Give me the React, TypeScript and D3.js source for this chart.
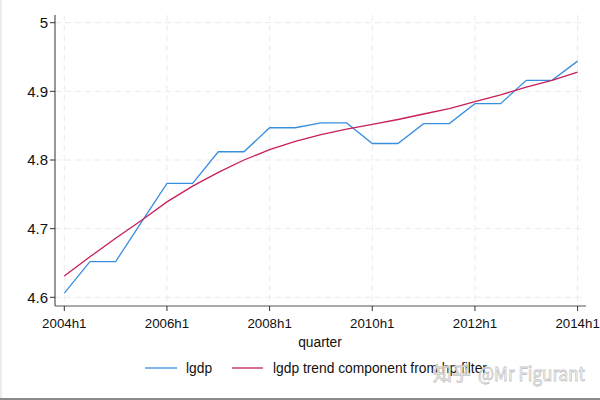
import React from "react";
import * as d3 from "d3";

const periods = [
  "2004h1","2004h2","2005h1","2005h2","2006h1","2006h2","2007h1","2007h2",
  "2008h1","2008h2","2009h1","2009h2","2010h1","2010h2","2011h1","2011h2",
  "2012h1","2012h2","2013h1","2013h2","2014h1",
];
const lgdp = [
  4.606, 4.652, 4.652, 4.709, 4.766, 4.766, 4.812, 4.812,
  4.847, 4.847, 4.854, 4.854, 4.824, 4.824, 4.853, 4.853,
  4.882, 4.882, 4.916, 4.916, 4.944,
];
const trend = [
  4.631, 4.659, 4.686, 4.712, 4.739, 4.762, 4.782, 4.800,
  4.815, 4.827, 4.837, 4.845, 4.852, 4.859, 4.867, 4.875,
  4.885, 4.895, 4.906, 4.916, 4.928,
];
const xTickLabels = ["2004h1", "2006h1", "2008h1", "2010h1", "2012h1", "2014h1"];
const yTicks = [4.6, 4.7, 4.8, 4.9, 5];
const seriesNames = ["lgdp", "lgdp trend component from hp filter"];
const xTitle = "quarter";

const W = 600;
const H = 400;
const FONT = "'Liberation Sans', Arial, Helvetica, sans-serif";
const BLUE = "#3a8ee0";
const RED = "#c81f5a";

export default function App() {
  const x = d3.scaleLinear().domain([0, periods.length - 1]).range([64.3, 577.6]);
  const y = d3.scaleLinear().domain([4.6, 5]).range([297.3, 22.7]);
  const axisLeft = 55;
  const axisBottom = 306;
  const plotTop = 15;
  const plotRight = 586;

  const line = d3
    .line<number>()
    .x((_, i) => x(i))
    .y((d) => y(d));

  const xTicks = xTickLabels.map((lab) => ({ lab, i: periods.indexOf(lab) }));

  return (
    <svg
      width={W}
      height={H}
      style={{ position: "absolute", left: 0, top: 0, background: "#fff" }}
      fontFamily={FONT}
    >
      <rect x={0} y={0} width={W} height={H} fill="#fff" />
      <line x1={1} y1={0} x2={1} y2={H} stroke="#e6e6e6" strokeWidth={1.5} />
      <line x1={0} y1={399} x2={W} y2={399} stroke="#8a8a8a" strokeWidth={2} />

      {/* grid */}
      {yTicks.map((t) => (
        <line
          key={"gy" + t}
          x1={axisLeft}
          x2={plotRight}
          y1={y(t)}
          y2={y(t)}
          stroke="#ebebeb"
          strokeWidth={1}
          strokeDasharray="6,4"
        />
      ))}
      {xTicks.map((t) => (
        <line
          key={"gx" + t.lab}
          x1={x(t.i)}
          x2={x(t.i)}
          y1={plotTop}
          y2={axisBottom}
          stroke="#ebebeb"
          strokeWidth={1}
          strokeDasharray="6,4"
        />
      ))}

      {/* series */}
      <path d={line(lgdp) || ""} fill="none" stroke={BLUE} strokeWidth={1.3} />
      <path d={line(trend) || ""} fill="none" stroke={RED} strokeWidth={1.3} />

      {/* axes */}
      <line x1={axisLeft} x2={axisLeft} y1={plotTop} y2={axisBottom} stroke="#333" strokeWidth={1} />
      <line x1={axisLeft} x2={plotRight} y1={axisBottom} y2={axisBottom} stroke="#555" strokeWidth={1} />
      {yTicks.map((t) => (
        <g key={"ty" + t}>
          <line x1={axisLeft - 5} x2={axisLeft} y1={y(t)} y2={y(t)} stroke="#333" />
          <text
            x={axisLeft - 7}
            y={y(t)}
            dy="0.36em"
            textAnchor="end"
            fontSize={15}
            fill="#111"
          >
            {d3.format("")(t)}
          </text>
        </g>
      ))}
      {xTicks.map((t) => (
        <g key={"tx" + t.lab}>
          <line x1={x(t.i)} x2={x(t.i)} y1={axisBottom} y2={axisBottom + 5} stroke="#333" />
          <text x={x(t.i)} y={327.5} textAnchor="middle" fontSize={13.3} fill="#111">
            {t.lab}
          </text>
        </g>
      ))}
      <text x={320} y={346.5} textAnchor="middle" fontSize={13.8} fill="#111">
        {xTitle}
      </text>

      {/* legend */}
      <line x1={145} x2={177} y1={368} y2={368} stroke={BLUE} strokeWidth={1.3} />
      <text x={186} y={373} fontSize={13.8} fill="#111">
        {seriesNames[0]}
      </text>
      <line x1={232} x2={263} y1={368} y2={368} stroke={RED} strokeWidth={1.3} />
      <text x={273} y={373} fontSize={13.8} fill="#111">
        {seriesNames[1]}
      </text>

      {/* watermark */}
      <g
        fontFamily="'Noto Sans CJK SC', 'Noto Sans', sans-serif"
        fill="#ffffff"
        fillOpacity={0.85}
        stroke="#c4c4c4"
        strokeWidth={0.8}
      >
        <text x={433} y={381} fontSize={19} textLength={38} lengthAdjust="spacingAndGlyphs">
          知乎
        </text>
        <text x={478} y={381} fontSize={19} textLength={107} lengthAdjust="spacingAndGlyphs">
          @Mr Figurant
        </text>
      </g>
    </svg>
  );
}
